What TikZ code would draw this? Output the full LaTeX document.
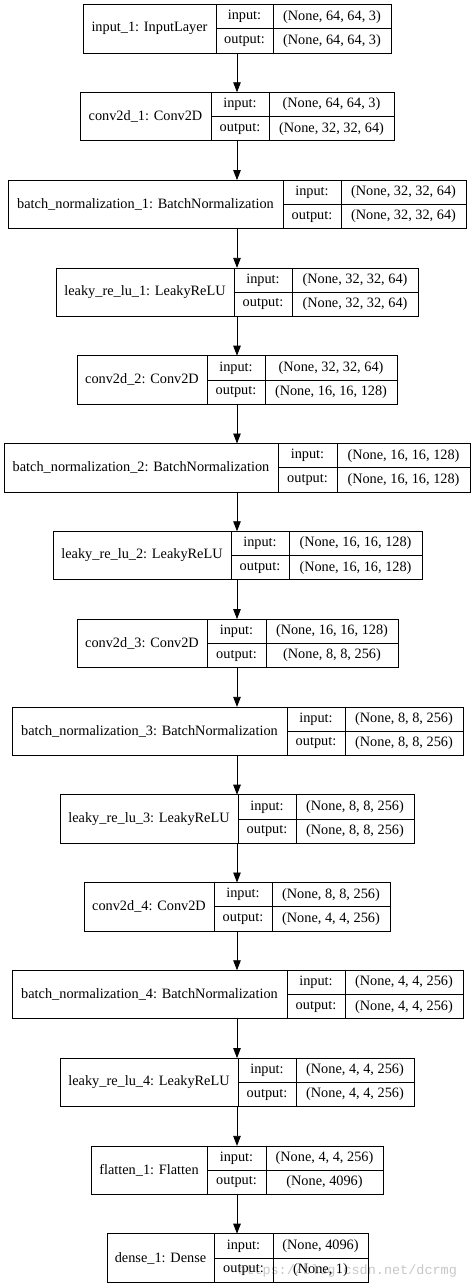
\documentclass[tikz,border=0pt]{standalone}
\usepackage{fontspec}
\setmainfont{Liberation Serif}
\setmonofont{Liberation Mono}
\usetikzlibrary{arrows.meta}
\newcommand\kerasLayer[9]{%
  \node[box, anchor=north west, minimum width={#6-#3}, minimum height=48.5] (#1) at (#3,#2) {};
  \draw[cellline] (#4,#2) -- (#4,{#2+48.5});
  \draw[cellline] (#5,#2) -- (#5,{#2+48.5});
  \draw[cellline] (#4,{#2+24.25}) -- (#6,{#2+24.25});
  \node[txt] (#1-name) at ({(#3+#4)/2},{#2+24.25}) {#7};
  \node[txt] (#1-inl) at ({(#4+#5)/2},{#2+12.1}) {input:};
  \node[txt] (#1-outl) at ({(#4+#5)/2},{#2+36.4}) {output:};
  \node[txt] (#1-in) at ({(#5+#6)/2},{#2+12.1}) {#8};
  \node[txt] (#1-out) at ({(#5+#6)/2},{#2+36.4}) {#9};
}
\begin{document}
\begin{tikzpicture}[x=1pt,y=-1pt,
  box/.style={draw, line width=0.8pt, inner sep=0pt, outer sep=0pt},
  cellline/.style={line width=0.8pt},
  txt/.style={inner sep=0pt, font=\fontsize{14.3}{16}\selectfont},
  arr/.style={-{Triangle[length=10pt,width=7.5pt]}, line width=0.8pt},
  wm/.style={text=black!22, font=\ttfamily\fontsize{13.5}{16}\selectfont, inner sep=0pt}]
\useasboundingbox (0,0) rectangle (474,1288);
\node[wm, anchor=west] (watermark) at (238,1271) {https://blog.csdn.net/dcrmg};
\kerasLayer{L1}{4.5}{83}{216}{273}{391}{input\_1: InputLayer}{(None, 64, 64, 3)}{(None, 64, 64, 3)}
\kerasLayer{L2}{92.3}{80}{211}{269}{394}{conv2d\_1: Conv2D}{(None, 64, 64, 3)}{(None, 32, 32, 64)}
\kerasLayer{L3}{180.1}{8}{283}{341}{466}{batch\_normalization\_1: BatchNormalization}{(None, 32, 32, 64)}{(None, 32, 32, 64)}
\kerasLayer{L4}{267.9}{56}{234}{292}{418}{leaky\_re\_lu\_1: LeakyReLU}{(None, 32, 32, 64)}{(None, 32, 32, 64)}
\kerasLayer{L5}{355.7}{77}{207}{265}{397}{conv2d\_2: Conv2D}{(None, 32, 32, 64)}{(None, 16, 16, 128)}
\kerasLayer{L6}{443.5}{4}{278}{337}{470}{batch\_normalization\_2: BatchNormalization}{(None, 16, 16, 128)}{(None, 16, 16, 128)}
\kerasLayer{L7}{531.3}{53}{231}{289}{422}{leaky\_re\_lu\_2: LeakyReLU}{(None, 16, 16, 128)}{(None, 16, 16, 128)}
\kerasLayer{L8}{619.1}{77}{207}{266}{398}{conv2d\_3: Conv2D}{(None, 16, 16, 128)}{(None, 8, 8, 256)}
\kerasLayer{L9}{706.9}{12}{287}{345}{463}{batch\_normalization\_3: BatchNormalization}{(None, 8, 8, 256)}{(None, 8, 8, 256)}
\kerasLayer{L10}{794.7}{60}{238}{296}{414}{leaky\_re\_lu\_3: LeakyReLU}{(None, 8, 8, 256)}{(None, 8, 8, 256)}
\kerasLayer{L11}{882.5}{84}{214}{272}{390}{conv2d\_4: Conv2D}{(None, 8, 8, 256)}{(None, 4, 4, 256)}
\kerasLayer{L12}{970.3}{12}{287}{345}{463}{batch\_normalization\_4: BatchNormalization}{(None, 4, 4, 256)}{(None, 4, 4, 256)}
\kerasLayer{L13}{1058.1}{60}{238}{296}{414}{leaky\_re\_lu\_4: LeakyReLU}{(None, 4, 4, 256)}{(None, 4, 4, 256)}
\kerasLayer{L14}{1145.9}{91}{207}{266}{383}{flatten\_1: Flatten}{(None, 4, 4, 256)}{(None, 4096)}
\kerasLayer{L15}{1233.7}{107}{214}{273}{368}{dense\_1: Dense}{(None, 4096)}{(None, 1)}
\foreach \a/\b in {L1/L2,L2/L3,L3/L4,L4/L5,L5/L6,L6/L7,L7/L8,L8/L9,L9/L10,L10/L11,L11/L12,L12/L13,L13/L14,L14/L15}
  \draw[arr] (237,0 |- \a.south) -- (237,0 |- \b.north);
\end{tikzpicture}
\end{document}
